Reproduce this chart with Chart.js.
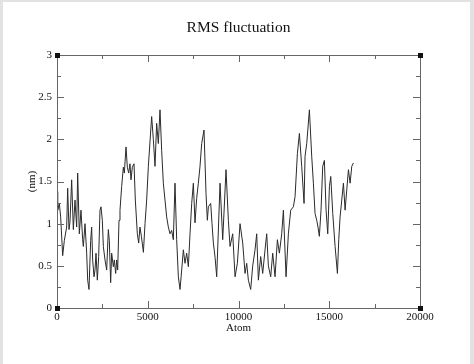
<!DOCTYPE html>
<html>
<head>
<meta charset="utf-8">
<script src="https://cdn.jsdelivr.net/npm/chart.js@4/dist/chart.umd.min.js"></script>
<style>
  html, body { margin: 0; padding: 0; }
  body { width: 474px; height: 364px; background: #e2e2e2; position: relative; overflow: hidden; }
  #wrap { position: absolute; left: 3px; top: 2px; width: 467px; height: 362px; background: #fff; }
  canvas { display: block; }
</style>
</head>
<body>
<div id="wrap"><canvas id="rmsf" width="467" height="362"></canvas></div>
<script>
// values (atom index / rms fluctuation in nm)
var atoms = [
  0, 37, 129, 202, 312, 404, 533, 588, 661, 716,
  808, 900, 992, 1084, 1139, 1230, 1322, 1414, 1451, 1543,
  1635, 1690, 1763, 1855, 1910, 1965, 2039, 2094, 2149, 2222,
  2296, 2369, 2424, 2498, 2553, 2645, 2737, 2828, 2883, 2957,
  3012, 3104, 3159, 3233, 3288, 3343, 3416, 3471, 3563, 3655,
  3710, 3802, 3875, 3949, 4022, 4077, 4151, 4243, 4316, 4426,
  4500, 4570, 4650, 4760, 4850, 4940, 5033, 5216, 5308, 5400,
  5491, 5583, 5675, 5767, 5859, 5950, 6042, 6134, 6226, 6318,
  6410, 6502, 6594, 6686, 6778, 6870, 6962, 7053, 7145, 7237,
  7329, 7421, 7513, 7604, 7696, 7787, 7879, 7971, 8100, 8210,
  8284, 8340, 8468, 8540, 8615, 8710, 8799, 8983, 9130, 9313,
  9442, 9534, 9681, 9810, 9938, 10085, 10232, 10360, 10452, 10544,
  10672, 10782, 10911, 11003, 11095, 11223, 11333, 11462, 11554, 11646,
  11775, 11885, 12013, 12142, 12252, 12381, 12473, 12620, 12748, 12877,
  13024, 13116, 13244, 13355, 13483, 13612, 13667, 13759, 13906, 14034,
  14126, 14218, 14310, 14380, 14455, 14547, 14640, 14732, 14825, 14917,
  15010, 15083, 15193, 15322, 15450, 15524, 15597, 15689, 15781, 15873,
  15965, 16057, 16149, 16241, 16333
];
var rmsf = [
  1.38, 1.16, 1.24, 1.08, 0.62, 0.80, 0.96, 1.42, 0.93, 1.02,
  1.52, 0.93, 1.28, 0.96, 1.60, 0.88, 1.16, 0.81, 0.73, 1.00,
  0.65, 0.33, 0.22, 0.80, 0.96, 0.57, 0.37, 0.45, 0.65, 0.33,
  0.61, 1.16, 1.20, 1.04, 0.73, 0.57, 0.45, 0.93, 0.80, 0.30,
  0.65, 0.49, 0.57, 0.41, 0.57, 0.45, 1.04, 1.16, 1.44, 1.67,
  1.60, 1.91, 1.67, 1.60, 1.71, 1.52, 1.67, 1.71, 1.28, 0.88,
  0.77, 0.96, 0.85, 0.66, 1.00, 1.28, 1.68, 2.27, 2.00, 1.68,
  2.19, 1.95, 2.35, 1.87, 1.48, 1.28, 1.08, 0.96, 0.88, 0.92,
  0.81, 1.48, 0.81, 0.37, 0.22, 0.45, 0.69, 0.53, 0.65, 0.49,
  0.88, 1.24, 1.48, 1.01, 1.30, 1.48, 1.68, 1.95, 2.11, 1.36,
  1.04, 1.20, 1.24, 1.00, 0.77, 0.60, 0.37, 1.48, 0.81, 1.64,
  1.04, 0.73, 0.88, 0.37, 0.53, 1.00, 0.77, 0.41, 0.53, 0.33,
  0.22, 0.50, 0.69, 0.88, 0.33, 0.61, 0.41, 0.69, 0.88, 0.50,
  0.37, 0.65, 0.37, 0.81, 0.65, 0.88, 1.16, 0.37, 0.88, 1.16,
  1.20, 1.32, 1.83, 2.07, 1.68, 1.24, 1.80, 1.95, 2.35, 1.80,
  1.48, 1.12, 1.04, 0.96, 0.85, 1.16, 1.68, 1.75, 1.16, 0.88,
  1.44, 1.56, 1.12, 0.73, 0.41, 0.81, 1.08, 1.28, 1.48, 1.16,
  1.40, 1.64, 1.48, 1.68, 1.72
];
var xTicks = [0, 5000, 10000, 15000, 20000];
var yTicks = [0, 0.5, 1, 1.5, 2, 2.5, 3];

var points = atoms.map(function(a, i) { return { x: a, y: rmsf[i] }; });

var serif = "'Liberation Serif', 'DejaVu Serif', serif";

// xmgrace style frame: inward ticks on all four sides + corner squares
var framePlugin = {
  id: 'frame',
  afterDraw: function(chart) {
    var ctx = chart.ctx, a = chart.chartArea;
    var xs = chart.scales.x, ys = chart.scales.y;
    ctx.save();
    ctx.strokeStyle = '#666';
    ctx.lineWidth = 1;
    ctx.strokeRect(a.left + 0.5, a.top + 0.5, a.right - a.left, a.bottom - a.top);
    ctx.beginPath();
    for (var v = 0; v <= 20000; v += 2500) {
      var px = Math.round(xs.getPixelForValue(v)) + 0.5;
      var len = (v % 5000 === 0) ? 7 : 4;
      ctx.moveTo(px, a.bottom); ctx.lineTo(px, a.bottom - len);
      ctx.moveTo(px, a.top); ctx.lineTo(px, a.top + len);
    }
    for (var k = 0; k <= 12; k++) {
      var py = Math.round(ys.getPixelForValue(k * 0.25)) + 0.5;
      var l2 = (k % 2 === 0) ? 7 : 4;
      ctx.moveTo(a.left, py); ctx.lineTo(a.left + l2, py);
      ctx.moveTo(a.right, py); ctx.lineTo(a.right - l2, py);
    }
    ctx.stroke();
    ctx.fillStyle = '#111';
    [[a.left, a.top], [a.right, a.top], [a.left, a.bottom], [a.right, a.bottom]].forEach(function(c) {
      ctx.fillRect(Math.round(c[0]) - 2, Math.round(c[1]) - 2, 5, 5);
    });
    ctx.restore();
  }
};

new Chart(document.getElementById('rmsf'), {
  type: 'line',
  data: {
    datasets: [{
      label: 'RMSF',
      data: points,
      borderColor: '#2a2a2a',
      borderWidth: 1,
      pointRadius: 0,
      tension: 0,
      fill: false
    }]
  },
  options: {
    responsive: false,
    animation: false,
    layout: { padding: { left: 0, right: 50, top: 0, bottom: 0 } },
    plugins: {
      legend: { display: false },
      tooltip: { enabled: false },
      title: {
        display: true,
        text: 'RMS fluctuation',
        fullSize: false,
        color: '#111',
        font: { family: serif, size: 15.5, weight: 'normal', lineHeight: 1.2 },
        padding: { top: 17, bottom: 17.4 }
      }
    },
    scales: {
      x: {
        type: 'linear',
        min: 0,
        max: 20000,
        afterBuildTicks: function(s) { s.ticks = xTicks.map(function(v) { return { value: v }; }); },
        afterFit: function(s) { s.height = 56; },
        grid: { display: false, drawTicks: false },
        border: { display: false },
        ticks: {
          padding: 3,
          color: '#111',
          maxRotation: 0,
          autoSkip: false,
          font: { family: serif, size: 11 },
          callback: function(v) { return String(v); }
        },
        title: {
          display: true,
          text: 'Atom',
          color: '#111',
          font: { family: serif, size: 11 },
          padding: { top: 0, bottom: 29.4 }
        }
      },
      y: {
        min: 0,
        max: 3,
        afterBuildTicks: function(s) { s.ticks = yTicks.map(function(v) { return { value: v }; }); },
        afterFit: function(s) { s.width = 54; },
        grid: { display: false, drawTicks: false },
        border: { display: false },
        ticks: {
          padding: 5,
          color: '#111',
          autoSkip: false,
          font: { family: serif, size: 11 },
          callback: function(v) { return String(v); }
        },
        title: {
          display: true,
          text: '(nm)',
          color: '#111',
          font: { family: serif, size: 11 },
          padding: { top: 22.4, bottom: 0 }
        }
      }
    }
  },
  plugins: [framePlugin]
});
</script>
</body>
</html>
